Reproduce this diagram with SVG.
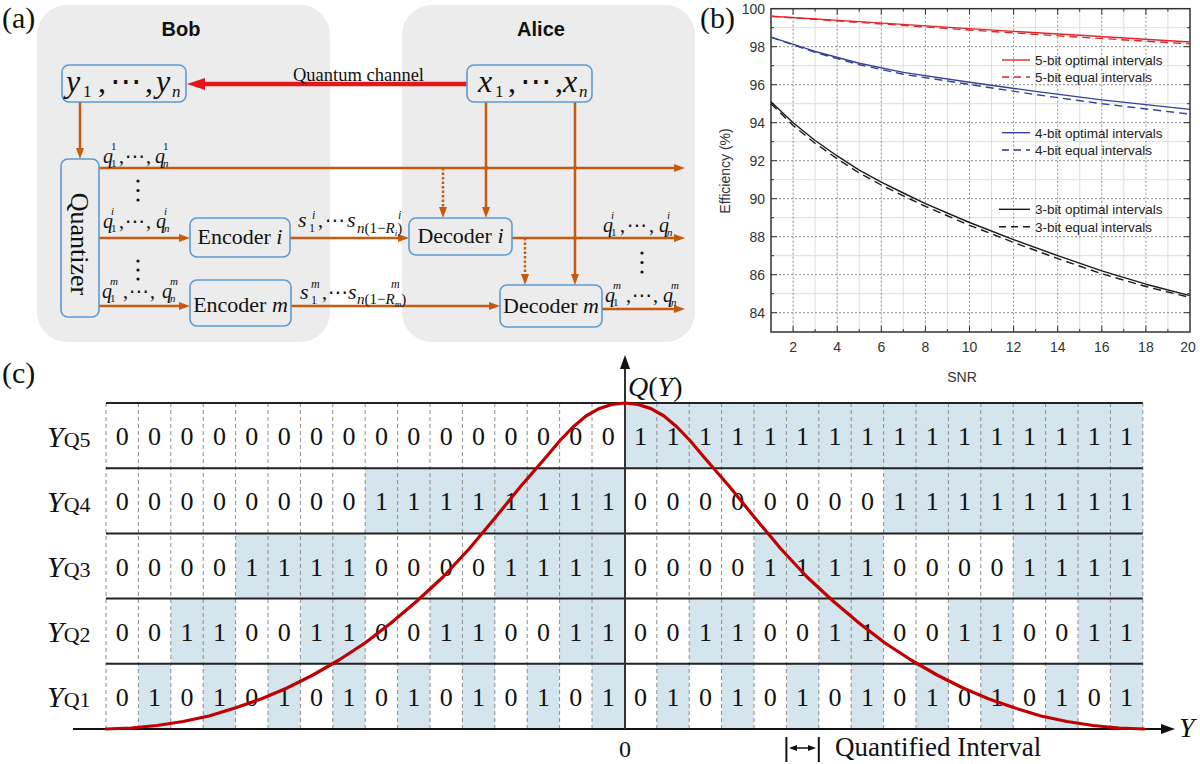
<svg xmlns="http://www.w3.org/2000/svg" width="1200" height="764" viewBox="0 0 1200 764">
<defs>
<style>
.ser{font-family:"Liberation Serif","Times New Roman","DejaVu Serif","DejaVu Sans",serif;fill:#111}
.san{font-family:"Liberation Sans",Arial,sans-serif}
.it{font-style:italic}
.panel{fill:#ececec}
.box{fill:#ececec;stroke:#5b9bd5;stroke-width:1.6}
.oa{fill:none;stroke:#c55a11;stroke-width:2.5;marker-end:url(#mo)}
.dot{stroke-dasharray:2.5 2}
.dg{font-family:"Liberation Serif","Times New Roman",serif;font-size:26px;text-anchor:middle;fill:#111}
.sh{fill:#d5e5ee}
.tk{font-family:"Liberation Sans",Arial,sans-serif;font-size:14px;fill:#333}
.lg{font-family:"Liberation Sans",Arial,sans-serif;font-size:13.5px;fill:#222}
.rl{font-family:"Liberation Serif","Times New Roman",serif;fill:#111}
</style>
<marker id="mo" markerUnits="userSpaceOnUse" markerWidth="11" markerHeight="8" refX="6" refY="4" orient="auto"><path d="M0,0 L11,4 L0,8 z" fill="#c55a11"/></marker>
<marker id="mr" markerUnits="userSpaceOnUse" markerWidth="18" markerHeight="12" refX="3" refY="6" orient="auto"><path d="M0,0 L18,6 L0,12 z" fill="#e8141c"/></marker>
<marker id="mk" markerUnits="userSpaceOnUse" markerWidth="14" markerHeight="10" refX="4" refY="5" orient="auto"><path d="M0,0 L14,5 L0,10 z" fill="#111"/></marker>
<marker id="ms" markerUnits="userSpaceOnUse" markerWidth="8" markerHeight="6" refX="6" refY="3" orient="auto-start-reverse"><path d="M0,0 L8,3 L0,6 z" fill="#111"/></marker>
</defs>
<rect width="1200" height="764" fill="#fff"/>

<!-- ===== (a) ===== -->
<text class="ser" x="2" y="28" font-size="30">(a)</text>
<g id="bob-panel"><rect class="panel" x="37" y="5" width="293" height="337" rx="30"/><text class="san" x="181" y="36" font-size="20" font-weight="bold" text-anchor="middle" fill="#111">Bob</text></g>
<g id="alice-panel"><rect class="panel" x="402" y="5" width="293" height="337" rx="30"/><text class="san" x="541" y="36" font-size="20" font-weight="bold" text-anchor="middle" fill="#111">Alice</text></g>

<g id="connectors">
<line x1="469" y1="84" x2="202" y2="84" stroke="#e8141c" stroke-width="4.5" marker-end="url(#mr)"/>
<path class="oa" d="M80 102V154"/>
<path class="oa" d="M99 168H680"/>
<path class="oa" d="M99 238H185"/>
<path class="oa" d="M290 238H404"/>
<path class="oa" d="M512 238H680"/>
<path class="oa" d="M99 306H185"/>
<path class="oa" d="M291 306H495"/>
<path class="oa" d="M602 309H680" stroke-width="3"/>
<path class="oa" d="M486 102V213"/>
<path class="oa" d="M575 102V280"/>
<path class="oa dot" d="M443 168V213"/>
<path class="oa dot" d="M525 238V280"/>
<g fill="#c55a11"><circle cx="486" cy="168" r="2"/><circle cx="575" cy="168" r="2"/><circle cx="575" cy="238" r="2"/></g>
<text class="ser" x="293" y="81" font-size="18.5">Quantum channel</text>
</g>

<g id="node-y">
<rect class="box" x="62" y="65" width="124" height="37" rx="7"/>
<text class="ser" y="92" font-size="32"><tspan x="66" class="it">y</tspan><tspan x="98">,</tspan><tspan x="110">⋯</tspan><tspan x="145">,</tspan><tspan x="156" class="it">y</tspan></text>
<text class="ser" x="83" y="97" font-size="17">1</text>
<text class="ser it" x="172" y="97" font-size="17">n</text>
</g>
<g id="node-x">
<rect class="box" x="467" y="65" width="125" height="37" rx="7"/>
<text class="ser" y="92" font-size="32"><tspan x="478" class="it">x</tspan><tspan x="508">,</tspan><tspan x="520">⋯</tspan><tspan x="555">,</tspan><tspan x="563" class="it">x</tspan></text>
<text class="ser" x="495" y="97" font-size="17">1</text>
<text class="ser it" x="579" y="97" font-size="17">n</text>
</g>
<g id="node-quantizer">
<rect class="box" x="61" y="159" width="38" height="158" rx="7"/>
<text class="ser" transform="translate(80,244) rotate(90)" y="9" font-size="26" text-anchor="middle">Quantizer</text>
</g>
<g id="node-encoder-i">
<rect class="box" x="190" y="218" width="100" height="39" rx="7"/>
<text class="ser" x="240" y="244" font-size="22" text-anchor="middle">Encoder <tspan class="it">i</tspan></text>
</g>
<g id="node-encoder-m">
<rect class="box" x="190" y="280" width="101" height="46" rx="7"/>
<text class="ser" x="240.5" y="312" font-size="22" text-anchor="middle">Encoder <tspan class="it">m</tspan></text>
</g>
<g id="node-decoder-i">
<rect class="box" x="409" y="218" width="103" height="37" rx="7"/>
<text class="ser" x="460.5" y="243" font-size="22" text-anchor="middle">Decoder <tspan class="it">i</tspan></text>
</g>
<g id="node-decoder-m">
<rect class="box" x="500" y="285" width="102" height="42" rx="7"/>
<text class="ser" x="551" y="313" font-size="22" text-anchor="middle">Decoder <tspan class="it">m</tspan></text>
</g>

<g id="labels-a" class="ser">
<!-- q^1 left -->
<text y="163" font-size="20"><tspan x="103" class="it">q</tspan><tspan x="119">,</tspan><tspan x="125">⋯</tspan><tspan x="146">,</tspan><tspan x="155" class="it">q</tspan></text>
<text x="111" y="150" font-size="11">1</text><text x="111" y="167" font-size="11">1</text>
<text x="163" y="150" font-size="11">1</text><text x="163" y="167" font-size="11" class="it">n</text>
<!-- q^i left -->
<text y="228" font-size="20"><tspan x="103" class="it">q</tspan><tspan x="119">,</tspan><tspan x="125">⋯</tspan><tspan x="146">,</tspan><tspan x="156" class="it">q</tspan></text>
<text x="111" y="215" font-size="11" class="it">i</text><text x="111" y="232" font-size="11">1</text>
<text x="164" y="215" font-size="11" class="it">i</text><text x="164" y="232" font-size="11" class="it">n</text>
<!-- q^m left -->
<text y="298" font-size="20"><tspan x="102" class="it">q</tspan><tspan x="123">,</tspan><tspan x="129">⋯</tspan><tspan x="150">,</tspan><tspan x="162" class="it">q</tspan></text>
<text x="110" y="285" font-size="11" class="it">m</text><text x="110" y="302" font-size="11">1</text>
<text x="170" y="285" font-size="11" class="it">m</text><text x="170" y="302" font-size="11" class="it">n</text>
<!-- s^i -->
<text x="298" y="227" font-size="22" class="it">s</text>
<text x="312" y="219" font-size="12" class="it">i</text><text x="309" y="232" font-size="12">1</text>
<text y="227" font-size="20"><tspan x="318">,</tspan><tspan x="325">⋯</tspan></text>
<text x="347" y="227" font-size="22" class="it">s</text>
<text x="398" y="219" font-size="12" class="it">i</text>
<text x="357" y="233" font-size="15"><tspan class="it">n</tspan>(1−<tspan class="it">R</tspan><tspan font-size="9" dy="3" class="it">i</tspan><tspan dy="-3">)</tspan></text>
<!-- s^m -->
<text x="300" y="299" font-size="22" class="it">s</text>
<text x="311" y="288" font-size="12" class="it">m</text><text x="311" y="304" font-size="12">1</text>
<text y="299" font-size="20"><tspan x="322">,</tspan><tspan x="328">⋯</tspan></text>
<text x="348" y="299" font-size="22" class="it">s</text>
<text x="391" y="288" font-size="12" class="it">m</text>
<text x="357" y="304" font-size="15"><tspan class="it">n</tspan>(1−<tspan class="it">R</tspan><tspan font-size="9" dy="3" class="it">m</tspan><tspan dy="-3">)</tspan></text>
<!-- q^i right -->
<text y="232" font-size="20"><tspan x="603" class="it">q</tspan><tspan x="620">,</tspan><tspan x="627">⋯</tspan><tspan x="649">,</tspan><tspan x="659" class="it">q</tspan></text>
<text x="611" y="219" font-size="11" class="it">i</text><text x="611" y="236" font-size="11">1</text>
<text x="667" y="219" font-size="11" class="it">i</text><text x="667" y="236" font-size="11" class="it">n</text>
<!-- q^m right -->
<text y="302" font-size="20"><tspan x="605" class="it">q</tspan><tspan x="626">,</tspan><tspan x="632">⋯</tspan><tspan x="653">,</tspan><tspan x="663" class="it">q</tspan></text>
<text x="613" y="289" font-size="11" class="it">m</text><text x="613" y="306" font-size="11">1</text>
<text x="671" y="289" font-size="11" class="it">m</text><text x="671" y="306" font-size="11" class="it">n</text>
<!-- vertical dots -->
<g fill="#111"><circle cx="138" cy="181" r="1.6"/><circle cx="138" cy="190.5" r="1.6"/><circle cx="138" cy="200" r="1.6"/>
<circle cx="138" cy="261" r="1.6"/><circle cx="138" cy="270" r="1.6"/><circle cx="138" cy="279" r="1.6"/>
<circle cx="642" cy="253" r="1.6"/><circle cx="642" cy="262.5" r="1.6"/><circle cx="642" cy="272" r="1.6"/></g>
</g>

<!-- ===== (b) ===== -->
<g id="chart-b">
<text class="ser" x="700" y="28" font-size="30">(b)</text>
<path d="M815.1 8.7V332M859.2 8.7V332M903.3 8.7V332M947.4 8.7V332M991.5 8.7V332M1035.6 8.7V332M1079.7 8.7V332M1123.8 8.7V332M1167.9 8.7V332M771 27.7H1190M771 65.7H1190M771 103.7H1190M771 141.7H1190M771 179.7H1190M771 217.7H1190M771 255.7H1190M771 293.7H1190" stroke="#dadada" stroke-width="0.9" fill="none"/>
<path d="M793.1 8.7V332M837.2 8.7V332M881.3 8.7V332M925.4 8.7V332M969.5 8.7V332M1013.6 8.7V332M1057.7 8.7V332M1101.8 8.7V332M1145.9 8.7V332M771 46.7H1190M771 84.7H1190M771 122.7H1190M771 160.7H1190M771 198.7H1190M771 236.7H1190M771 274.7H1190M771 312.7H1190" stroke="#8a8a8a" stroke-width="1" stroke-dasharray="2 2" fill="none"/>
<path d="M793.1 332v-6M837.2 332v-6M881.3 332v-6M925.4 332v-6M969.5 332v-6M1013.6 332v-6M1057.7 332v-6M1101.8 332v-6M1145.9 332v-6M815.1 332v-3M859.2 332v-3M903.3 332v-3M947.4 332v-3M991.5 332v-3M1035.6 332v-3M1079.7 332v-3M1123.8 332v-3M1167.9 332v-3M793.1 8.7v6M837.2 8.7v6M881.3 8.7v6M925.4 8.7v6M969.5 8.7v6M1013.6 8.7v6M1057.7 8.7v6M1101.8 8.7v6M1145.9 8.7v6M815.1 8.7v3M859.2 8.7v3M903.3 8.7v3M947.4 8.7v3M991.5 8.7v3M1035.6 8.7v3M1079.7 8.7v3M1123.8 8.7v3M1167.9 8.7v3M771 46.7h6M771 84.7h6M771 122.7h6M771 160.7h6M771 198.7h6M771 236.7h6M771 274.7h6M771 312.7h6M771 27.7h3M771 65.7h3M771 103.7h3M771 141.7h3M771 179.7h3M771 217.7h3M771 255.7h3M771 293.7h3M1190 46.7h-6M1190 84.7h-6M1190 122.7h-6M1190 160.7h-6M1190 198.7h-6M1190 236.7h-6M1190 274.7h-6M1190 312.7h-6M1190 27.7h-3M1190 65.7h-3M1190 103.7h-3M1190 141.7h-3M1190 179.7h-3M1190 217.7h-3M1190 255.7h-3M1190 293.7h-3" stroke="#333" stroke-width="1" fill="none"/>
<rect x="771" y="8.7" width="419" height="323.3" fill="none" stroke="#333" stroke-width="1.5"/>
<g fill="none" stroke-width="1.4" stroke-linejoin="round">
<polyline stroke="#e3262a" points="771,16.3 859.2,21.6 969.5,28.65 1079.7,35.3 1190,41.95"/>
<polyline stroke="#e3262a" stroke-dasharray="8 5" points="771,16.3 859.2,22.4 969.5,30 1079.7,37.2 1190,43.85"/>
<polyline stroke="#34409c" points="771,37.2 815.1,51.45 859.2,63.2 903.3,72.35 969.5,82.3 1035.6,91.35 1101.8,99.9 1190,109.4"/>
<polyline stroke="#34409c" stroke-dasharray="8 5" points="771,37.2 815.1,52.4 859.2,64.75 903.3,74.25 969.5,84.5 1035.6,94.6 1101.8,103.7 1190,114.15"/>
<polyline stroke="#1a1a1a" points="771,101.8 793.1,122.7 815.1,140.5 837.2,155.95 859.2,170.2 881.3,182.2 903.3,193 925.4,203.6 969.5,222.5 1013.6,239.6 1057.7,255.7 1101.8,270.9 1145.9,284.2 1190,295.6"/>
<polyline stroke="#1a1a1a" stroke-dasharray="8 5" points="771,103.7 793.1,125.55 815.1,143.3 837.2,158.8 859.2,173.05 881.3,185 903.3,195.85 925.4,206.3 969.5,225.3 1013.6,242.4 1057.7,258.55 1101.8,273.75 1145.9,286.5 1190,297.5"/>
</g>
<g id="legend-b">
<line x1="1002" y1="60" x2="1030" y2="60" stroke="#e3262a" stroke-width="1.4"/><text class="lg" x="1035" y="65">5-bit optimal intervals</text>
<line x1="1002" y1="77" x2="1030" y2="77" stroke="#e3262a" stroke-width="1.4" stroke-dasharray="7 5"/><text class="lg" x="1035" y="82">5-bit equal intervals</text>
<line x1="1002" y1="132.7" x2="1030" y2="132.7" stroke="#34409c" stroke-width="1.4"/><text class="lg" x="1035" y="137.7">4-bit optimal intervals</text>
<line x1="1002" y1="150" x2="1030" y2="150" stroke="#2a3480" stroke-width="1.4" stroke-dasharray="7 5"/><text class="lg" x="1035" y="155">4-bit equal intervals</text>
<line x1="999" y1="209.3" x2="1030" y2="209.3" stroke="#1a1a1a" stroke-width="1.4"/><text class="lg" x="1035" y="214.3">3-bit optimal intervals</text>
<line x1="999" y1="226.7" x2="1030" y2="226.7" stroke="#1a1a1a" stroke-width="1.4" stroke-dasharray="7 5"/><text class="lg" x="1035" y="231.7">3-bit equal intervals</text>
</g>
<g class="tk" text-anchor="end">
<text x="765" y="13.7">100</text><text x="765" y="51.7">98</text><text x="765" y="89.7">96</text><text x="765" y="127.7">94</text><text x="765" y="165.7">92</text><text x="765" y="203.7">90</text><text x="765" y="241.7">88</text><text x="765" y="279.7">86</text><text x="765" y="317.7">84</text>
</g>
<g class="tk" text-anchor="middle">
<text x="793.1" y="352">2</text><text x="837.2" y="352">4</text><text x="881.3" y="352">6</text><text x="925.4" y="352">8</text><text x="969.5" y="352">10</text><text x="1013.6" y="352">12</text><text x="1057.7" y="352">14</text><text x="1101.8" y="352">16</text><text x="1145.9" y="352">18</text><text x="1188" y="352">20</text>
<text x="962" y="382">SNR</text>
<text transform="translate(730,171) rotate(-90)">Efficiency (%)</text>
</g>
</g>

<!-- ===== (c) ===== -->
<g id="chart-c">
<text class="ser" x="2" y="383" font-size="30">(c)</text>
<g class="sh">
<rect x="624.4" y="403" width="518.4" height="65.2"/>
<rect x="365.2" y="468.2" width="259.2" height="65.2"/><rect x="883.6" y="468.2" width="259.2" height="65.2"/>
<rect x="235.6" y="533.4" width="129.6" height="65.2"/><rect x="494.8" y="533.4" width="129.6" height="65.2"/><rect x="754" y="533.4" width="129.6" height="65.2"/><rect x="1013.2" y="533.4" width="129.6" height="65.2"/>
<rect x="170.8" y="598.6" width="64.8" height="65.2"/><rect x="300.4" y="598.6" width="64.8" height="65.2"/><rect x="430" y="598.6" width="64.8" height="65.2"/><rect x="559.6" y="598.6" width="64.8" height="65.2"/><rect x="689.2" y="598.6" width="64.8" height="65.2"/><rect x="818.8" y="598.6" width="64.8" height="65.2"/><rect x="948.4" y="598.6" width="64.8" height="65.2"/><rect x="1078" y="598.6" width="64.8" height="65.2"/>
<rect x="138.4" y="663.8" width="32.4" height="65.2"/><rect x="203.2" y="663.8" width="32.4" height="65.2"/><rect x="268" y="663.8" width="32.4" height="65.2"/><rect x="332.8" y="663.8" width="32.4" height="65.2"/><rect x="397.6" y="663.8" width="32.4" height="65.2"/><rect x="462.4" y="663.8" width="32.4" height="65.2"/><rect x="527.2" y="663.8" width="32.4" height="65.2"/><rect x="592" y="663.8" width="32.4" height="65.2"/><rect x="656.8" y="663.8" width="32.4" height="65.2"/><rect x="721.6" y="663.8" width="32.4" height="65.2"/><rect x="786.4" y="663.8" width="32.4" height="65.2"/><rect x="851.2" y="663.8" width="32.4" height="65.2"/><rect x="916" y="663.8" width="32.4" height="65.2"/><rect x="980.8" y="663.8" width="32.4" height="65.2"/><rect x="1045.6" y="663.8" width="32.4" height="65.2"/><rect x="1110.4" y="663.8" width="32.4" height="65.2"/>
</g>
<path d="M106 403V729M138.4 403V729M170.8 403V729M203.2 403V729M235.6 403V729M268 403V729M300.4 403V729M332.8 403V729M365.2 403V729M397.6 403V729M430 403V729M462.4 403V729M494.8 403V729M527.2 403V729M559.6 403V729M592 403V729M656.8 403V729M689.2 403V729M721.6 403V729M754 403V729M786.4 403V729M818.8 403V729M851.2 403V729M883.6 403V729M916 403V729M948.4 403V729M980.8 403V729M1013.2 403V729M1045.6 403V729M1078 403V729M1110.4 403V729M1142.8 403V729" stroke="#8c8c8c" stroke-width="1" stroke-dasharray="4 3" fill="none"/>
<path d="M106 403H1142.8M106 468.2H1142.8M106 533.4H1142.8M106 598.6H1142.8M106 663.8H1142.8" stroke="#222" stroke-width="2" fill="none"/>
<g id="rowlabels" class="rl">
<text x="47" y="446.6"><tspan class="it" font-size="30">Y</tspan><tspan font-size="22">Q5</tspan></text>
<text x="47" y="511.8"><tspan class="it" font-size="30">Y</tspan><tspan font-size="22">Q4</tspan></text>
<text x="47" y="577"><tspan class="it" font-size="30">Y</tspan><tspan font-size="22">Q3</tspan></text>
<text x="47" y="642.2"><tspan class="it" font-size="30">Y</tspan><tspan font-size="22">Q2</tspan></text>
<text x="47" y="707.4"><tspan class="it" font-size="30">Y</tspan><tspan font-size="22">Q1</tspan></text>
</g>
<g id="row-q5" class="dg">
<text x="122.2" y="445.1">0</text><text x="154.6" y="445.1">0</text><text x="187" y="445.1">0</text><text x="219.4" y="445.1">0</text><text x="251.8" y="445.1">0</text><text x="284.2" y="445.1">0</text><text x="316.6" y="445.1">0</text><text x="349" y="445.1">0</text><text x="381.4" y="445.1">0</text><text x="413.8" y="445.1">0</text><text x="446.2" y="445.1">0</text><text x="478.6" y="445.1">0</text><text x="511" y="445.1">0</text><text x="543.4" y="445.1">0</text><text x="575.8" y="445.1">0</text><text x="608.2" y="445.1">0</text><text x="640.6" y="445.1">1</text><text x="673" y="445.1">1</text><text x="705.4" y="445.1">1</text><text x="737.8" y="445.1">1</text><text x="770.2" y="445.1">1</text><text x="802.6" y="445.1">1</text><text x="835" y="445.1">1</text><text x="867.4" y="445.1">1</text><text x="899.8" y="445.1">1</text><text x="932.2" y="445.1">1</text><text x="964.6" y="445.1">1</text><text x="997" y="445.1">1</text><text x="1029.4" y="445.1">1</text><text x="1061.8" y="445.1">1</text><text x="1094.2" y="445.1">1</text><text x="1126.6" y="445.1">1</text>
</g>
<g id="row-q4" class="dg">
<text x="122.2" y="510.3">0</text><text x="154.6" y="510.3">0</text><text x="187" y="510.3">0</text><text x="219.4" y="510.3">0</text><text x="251.8" y="510.3">0</text><text x="284.2" y="510.3">0</text><text x="316.6" y="510.3">0</text><text x="349" y="510.3">0</text><text x="381.4" y="510.3">1</text><text x="413.8" y="510.3">1</text><text x="446.2" y="510.3">1</text><text x="478.6" y="510.3">1</text><text x="511" y="510.3">1</text><text x="543.4" y="510.3">1</text><text x="575.8" y="510.3">1</text><text x="608.2" y="510.3">1</text><text x="640.6" y="510.3">0</text><text x="673" y="510.3">0</text><text x="705.4" y="510.3">0</text><text x="737.8" y="510.3">0</text><text x="770.2" y="510.3">0</text><text x="802.6" y="510.3">0</text><text x="835" y="510.3">0</text><text x="867.4" y="510.3">0</text><text x="899.8" y="510.3">1</text><text x="932.2" y="510.3">1</text><text x="964.6" y="510.3">1</text><text x="997" y="510.3">1</text><text x="1029.4" y="510.3">1</text><text x="1061.8" y="510.3">1</text><text x="1094.2" y="510.3">1</text><text x="1126.6" y="510.3">1</text>
</g>
<g id="row-q3" class="dg">
<text x="122.2" y="575.5">0</text><text x="154.6" y="575.5">0</text><text x="187" y="575.5">0</text><text x="219.4" y="575.5">0</text><text x="251.8" y="575.5">1</text><text x="284.2" y="575.5">1</text><text x="316.6" y="575.5">1</text><text x="349" y="575.5">1</text><text x="381.4" y="575.5">0</text><text x="413.8" y="575.5">0</text><text x="446.2" y="575.5">0</text><text x="478.6" y="575.5">0</text><text x="511" y="575.5">1</text><text x="543.4" y="575.5">1</text><text x="575.8" y="575.5">1</text><text x="608.2" y="575.5">1</text><text x="640.6" y="575.5">0</text><text x="673" y="575.5">0</text><text x="705.4" y="575.5">0</text><text x="737.8" y="575.5">0</text><text x="770.2" y="575.5">1</text><text x="802.6" y="575.5">1</text><text x="835" y="575.5">1</text><text x="867.4" y="575.5">1</text><text x="899.8" y="575.5">0</text><text x="932.2" y="575.5">0</text><text x="964.6" y="575.5">0</text><text x="997" y="575.5">0</text><text x="1029.4" y="575.5">1</text><text x="1061.8" y="575.5">1</text><text x="1094.2" y="575.5">1</text><text x="1126.6" y="575.5">1</text>
</g>
<g id="row-q2" class="dg">
<text x="122.2" y="640.7">0</text><text x="154.6" y="640.7">0</text><text x="187" y="640.7">1</text><text x="219.4" y="640.7">1</text><text x="251.8" y="640.7">0</text><text x="284.2" y="640.7">0</text><text x="316.6" y="640.7">1</text><text x="349" y="640.7">1</text><text x="381.4" y="640.7">0</text><text x="413.8" y="640.7">0</text><text x="446.2" y="640.7">1</text><text x="478.6" y="640.7">1</text><text x="511" y="640.7">0</text><text x="543.4" y="640.7">0</text><text x="575.8" y="640.7">1</text><text x="608.2" y="640.7">1</text><text x="640.6" y="640.7">0</text><text x="673" y="640.7">0</text><text x="705.4" y="640.7">1</text><text x="737.8" y="640.7">1</text><text x="770.2" y="640.7">0</text><text x="802.6" y="640.7">0</text><text x="835" y="640.7">1</text><text x="867.4" y="640.7">1</text><text x="899.8" y="640.7">0</text><text x="932.2" y="640.7">0</text><text x="964.6" y="640.7">1</text><text x="997" y="640.7">1</text><text x="1029.4" y="640.7">0</text><text x="1061.8" y="640.7">0</text><text x="1094.2" y="640.7">1</text><text x="1126.6" y="640.7">1</text>
</g>
<g id="row-q1" class="dg">
<text x="122.2" y="705.9">0</text><text x="154.6" y="705.9">1</text><text x="187" y="705.9">0</text><text x="219.4" y="705.9">1</text><text x="251.8" y="705.9">0</text><text x="284.2" y="705.9">1</text><text x="316.6" y="705.9">0</text><text x="349" y="705.9">1</text><text x="381.4" y="705.9">0</text><text x="413.8" y="705.9">1</text><text x="446.2" y="705.9">0</text><text x="478.6" y="705.9">1</text><text x="511" y="705.9">0</text><text x="543.4" y="705.9">1</text><text x="575.8" y="705.9">0</text><text x="608.2" y="705.9">1</text><text x="640.6" y="705.9">0</text><text x="673" y="705.9">1</text><text x="705.4" y="705.9">0</text><text x="737.8" y="705.9">1</text><text x="770.2" y="705.9">0</text><text x="802.6" y="705.9">1</text><text x="835" y="705.9">0</text><text x="867.4" y="705.9">1</text><text x="899.8" y="705.9">0</text><text x="932.2" y="705.9">1</text><text x="964.6" y="705.9">0</text><text x="997" y="705.9">1</text><text x="1029.4" y="705.9">0</text><text x="1061.8" y="705.9">1</text><text x="1094.2" y="705.9">0</text><text x="1126.6" y="705.9">1</text>
</g>
<line x1="73" y1="729" x2="1165" y2="729" stroke="#111" stroke-width="2" marker-end="url(#mk)"/>
<line x1="625" y1="729" x2="625" y2="365" stroke="#333" stroke-width="2" marker-end="url(#mk)"/>
<polyline fill="none" stroke="#c00000" stroke-width="3.2" stroke-linejoin="round" stroke-linecap="round" points="106,729 131,728 157,725.5 183,721.5 209,716 235,708 261,699 287,688 313,675 339,660 365,643 391,623 417,601 443,577 469,549 495,518 521,486 534,471 547,456 560,440.5 573,427 586,416 599,408.6 612,404.5 625,403 638,404.5 651,408.6 664,416 677,427 690,440.5 703,456 716,471 729,486 755,518 781,549 807,577 833,601 859,623 885,643 911,660 937,675 963,688 989,699 1015,708 1041,716 1067,721.5 1093,725.5 1119,728 1144,729"/>
<text class="rl" x="628" y="396" font-size="28"><tspan class="it">Q</tspan>(<tspan class="it">Y</tspan>)</text>
<text class="rl it" x="1179" y="737" font-size="28">Y</text>
<text class="rl" x="625" y="757" font-size="24" text-anchor="middle">0</text>
<path d="M786.4 737V762M818.8 737V762" stroke="#111" stroke-width="2" fill="none"/>
<line x1="791" y1="748" x2="814" y2="748" stroke="#111" stroke-width="1.5" marker-start="url(#ms)" marker-end="url(#ms)"/>
<text class="rl" x="835" y="756" font-size="27">Quantified Interval</text>
</g>
</svg>
